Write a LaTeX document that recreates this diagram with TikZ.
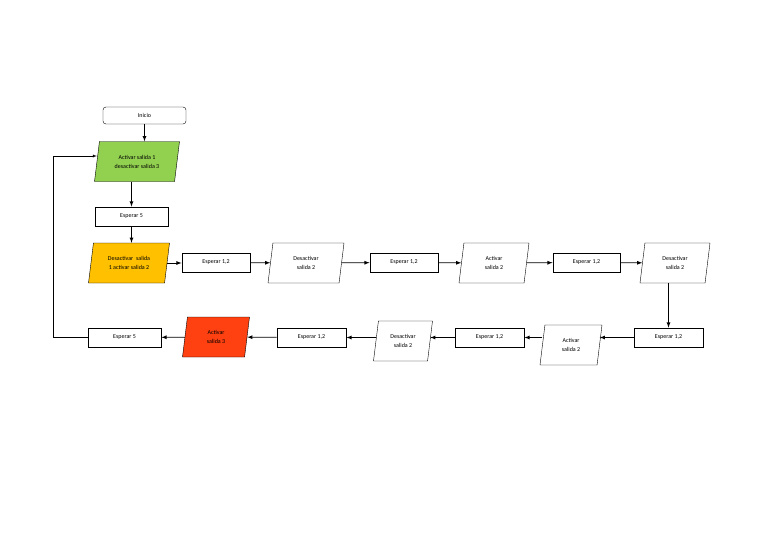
\documentclass[tikz,border=0pt]{standalone}
\usepackage{fontspec}
\setmainfont{Carlito}
\usetikzlibrary{shapes.geometric}
\definecolor{verde}{HTML}{92D050}
\definecolor{ambar}{HTML}{FFC000}
\definecolor{rojo}{HTML}{FF4010}
\begin{document}
\begin{tikzpicture}[x=1pt, y=-1pt,
  caja/.style={rectangle, draw, thick, minimum width=68pt, minimum height=19pt, inner sep=1pt, font=\fontsize{6}{8}\selectfont, align=center},
  ini/.style={caja, rounded corners=3pt, minimum width=83pt, minimum height=17pt, thin},
  dato/.style={trapezium, trapezium left angle=72, trapezium right angle=108, trapezium stretches body, draw, thin, minimum width=70pt, minimum height=40pt, inner sep=1pt, font=\fontsize{6}{9}\selectfont, align=center},
  e/.style={->, thick, >=latex}
]
\useasboundingbox (0,0) rectangle (768,543);

% --- primera columna ---
\node[ini] (inicio) at (144.5,115.5) {Inicio};
\node[dato, fill=verde, minimum width=85pt] (s1) at (137,161.5) {Activar salida 1\\desactivar salida 3};
\node[caja, minimum width=73pt] (e5a) at (131.5,216.5) {Esperar 5};
\node[dato, fill=ambar, minimum width=81pt] (s2) at (129,263) {Desactivar\ \ salida\\1 activar salida 2};

% --- fila superior ---
\node[caja] (e12a) at (216,262.5) {Esperar 1,2};
\node[dato, minimum width=76pt] (d2a) at (306,263) {Desactivar\\salida 2};
\node[caja] (e12b) at (404,262.5) {Esperar 1,2};
\node[dato] (a2a) at (494,263) {Activar\\salida 2};
\node[caja, minimum width=67pt] (e12c) at (586.5,262.5) {Esperar 1,2};
\node[dato] (d2b) at (675,263) {Desactivar\\salida 2};

% --- fila inferior ---
\node[caja, minimum width=69pt] (e12d) at (668.5,337.5) {Esperar 1,2};
\node[dato, minimum width=62pt] (a2b) at (571,345) {Activar\\salida 2};
\node[caja, minimum width=69pt] (e12e) at (489.5,337.5) {Esperar 1,2};
\node[dato, minimum width=59pt] (d2c) at (403,341) {Desactivar\\salida 2};
\node[caja, minimum width=69pt] (e12f) at (311.5,337.5) {Esperar 1,2};
\node[dato, fill=rojo, minimum width=67pt] (s3) at (216,337) {Activar\\salida 3};
\node[caja, minimum width=73pt] (e5b) at (124.5,337.5) {Esperar 5};
\coordinate (vuelta) at (53,156);

% --- conexiones ---
\draw[e] (inicio) -- (inicio |- s1.north);
\draw[e] (e5a |- s1.south) -- (e5a);
\draw[e] (e5a) -- (e5a |- s2.north);
\draw[e] (s2.east) -- (s2.east -| e12a.west);
\draw[e] (e12a) -- (d2a);
\draw[e] (d2a) -- (e12b);
\draw[e] (e12b) -- (a2a);
\draw[e] (a2a) -- (e12c);
\draw[e] (e12c) -- (d2b);
\draw[e] (e12d |- d2b.south) -- (e12d);
\draw[e] (e12d.west) -- (e12d.west -| a2b.east);
\draw[e] (e12d.west -| a2b.west) -- (e12e);
\draw[e] (e12e.west) -- (e12e.west -| d2c.east);
\draw[e] (e12e.west -| d2c.west) -- (e12f);
\draw[e] (e12f) -- (s3);
\draw[e] (s3) -- (e5b);
\draw[e, thin] (e5b.west) -| (vuelta) -- (vuelta -| s1.west);
\end{tikzpicture}
\end{document}
